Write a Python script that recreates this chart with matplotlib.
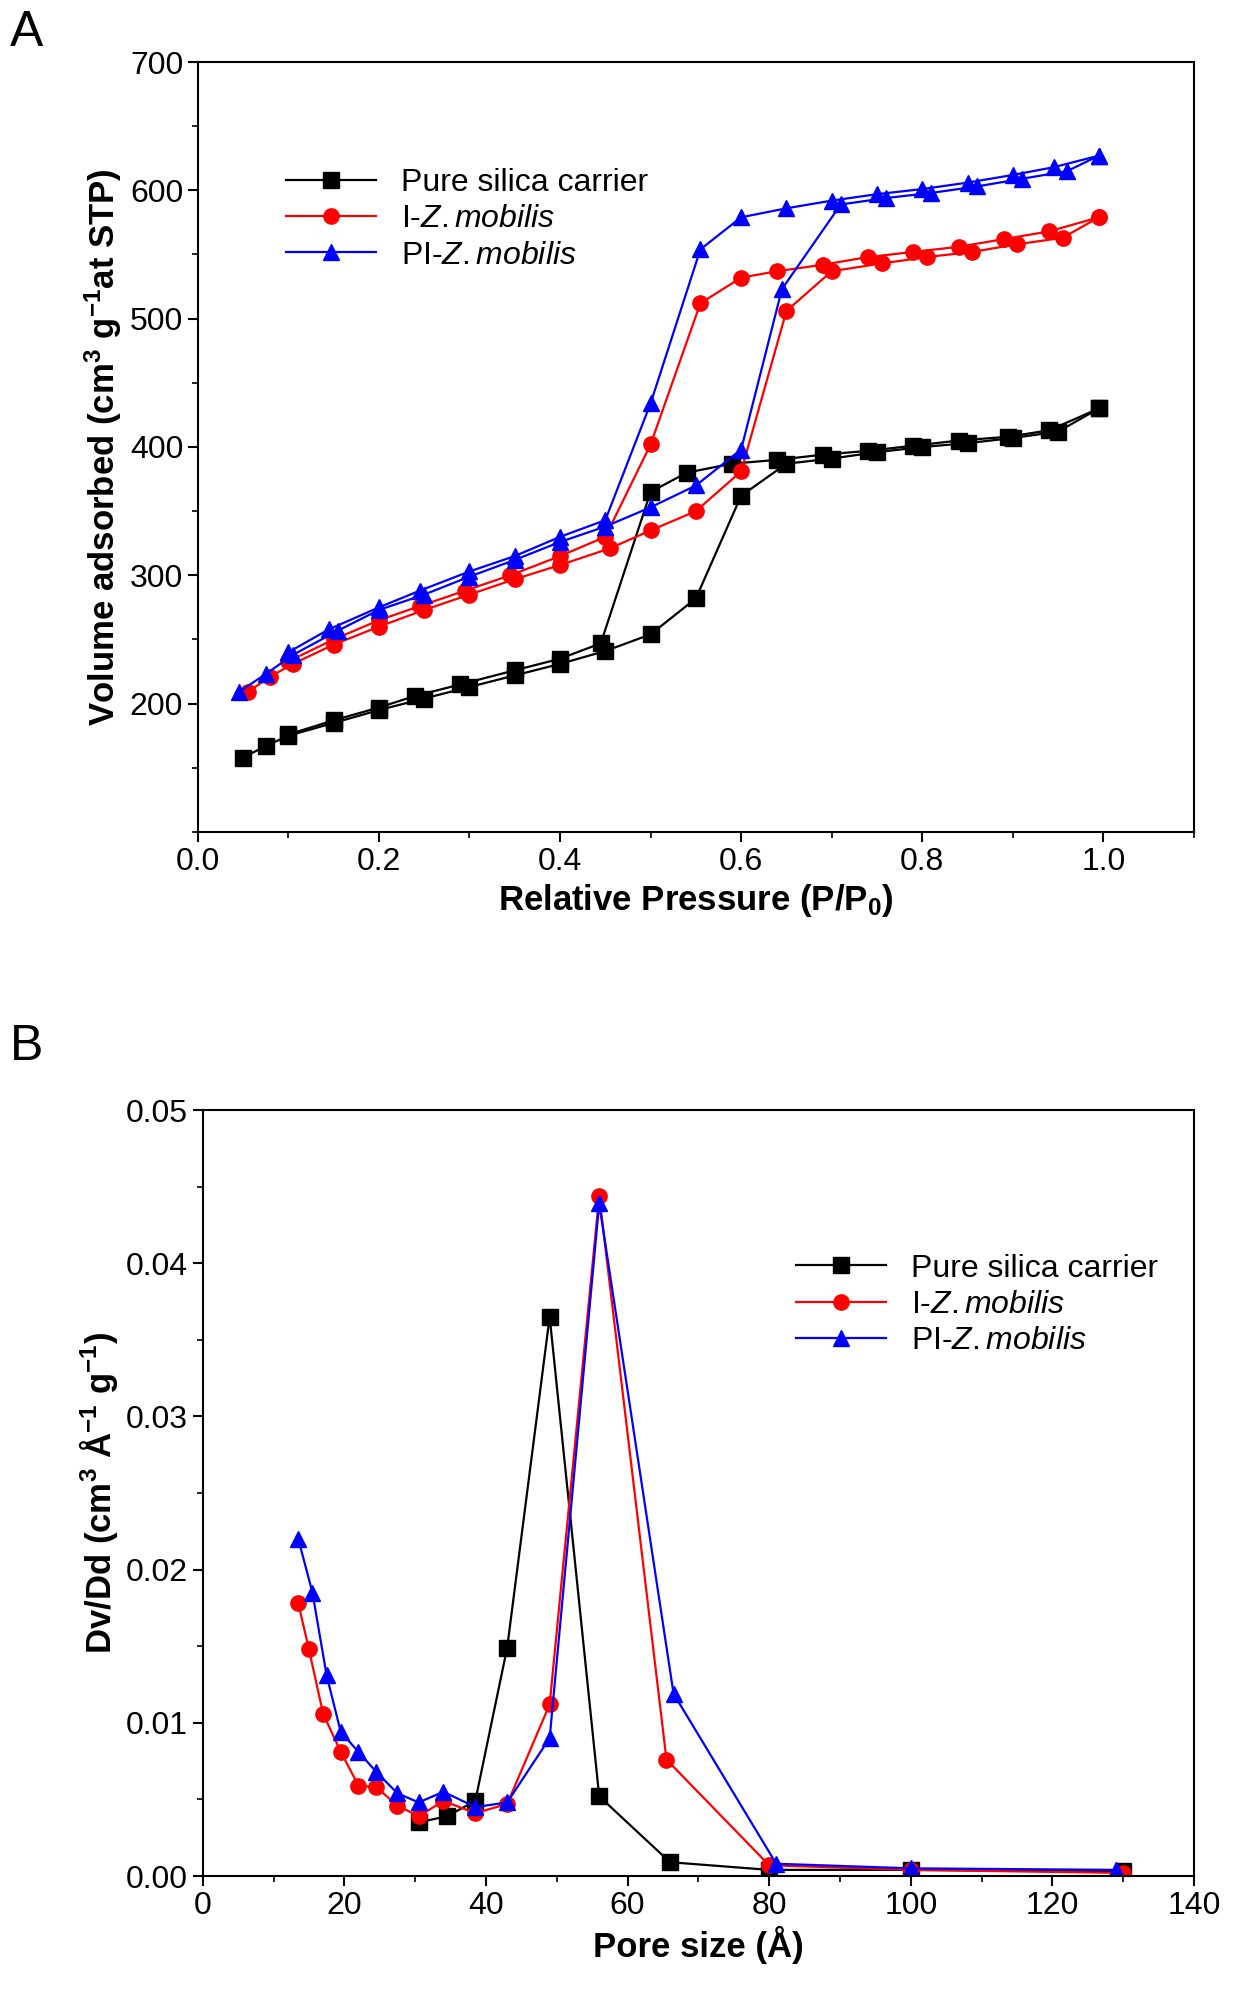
import matplotlib.pyplot as plt
from matplotlib.ticker import MultipleLocator

plt.rcParams['font.family'] = ['Liberation Sans', 'DejaVu Sans']
plt.rcParams['font.size'] = 22
plt.rcParams['mathtext.fontset'] = 'custom'
plt.rcParams['mathtext.rm'] = 'Liberation Sans'
plt.rcParams['mathtext.it'] = 'Liberation Sans:italic'
plt.rcParams['mathtext.bf'] = 'Liberation Sans:bold'

# Panel A: isotherms (adsorption branch, then desorption branch)
bk_ads_x = [0.05, 0.075, 0.1, 0.15, 0.2, 0.25, 0.3, 0.35, 0.4, 0.45, 0.5, 0.55, 0.6, 0.65, 0.7, 0.75, 0.8, 0.85, 0.9, 0.95, 0.995]
bk_ads_y = [158, 167, 175, 185, 195, 204, 213, 222, 231, 241, 254, 282, 362, 387, 391, 396, 400, 403, 407, 412, 430]
bk_des_x = [0.995, 0.94, 0.895, 0.84, 0.79, 0.74, 0.69, 0.64, 0.59, 0.54, 0.5, 0.445, 0.4, 0.35, 0.29, 0.24, 0.2, 0.15, 0.1]
bk_des_y = [430, 413, 408, 405, 401, 397, 394, 390, 387, 380, 365, 247, 235, 226, 215, 206, 197, 187, 176]
rd_ads_x = [0.055, 0.08, 0.105, 0.15, 0.2, 0.25, 0.3, 0.35, 0.4, 0.455, 0.5, 0.55, 0.6, 0.65, 0.7, 0.755, 0.805, 0.855, 0.905, 0.955, 0.995]
rd_ads_y = [209, 221, 231, 246, 260, 273, 285, 297, 308, 321, 335, 350, 381, 506, 537, 543, 548, 552, 558, 563, 579]
rd_des_x = [0.995, 0.94, 0.89, 0.84, 0.79, 0.74, 0.69, 0.64, 0.6, 0.555, 0.5, 0.45, 0.4, 0.345, 0.295, 0.245, 0.2, 0.15, 0.1]
rd_des_y = [579, 568, 562, 556, 552, 548, 542, 537, 532, 512, 402, 330, 315, 300, 288, 276, 265, 250, 233]
bl_ads_x = [0.045, 0.075, 0.105, 0.155, 0.2, 0.25, 0.3, 0.35, 0.4, 0.45, 0.5, 0.55, 0.6, 0.645, 0.71, 0.76, 0.81, 0.86, 0.91, 0.96, 0.995]
bl_ads_y = [209, 223, 238, 257, 273, 285, 299, 312, 326, 338, 353, 370, 398, 523, 589, 594, 598, 603, 609, 615, 627]
bl_des_x = [0.995, 0.945, 0.9, 0.85, 0.8, 0.75, 0.7, 0.65, 0.6, 0.555, 0.5, 0.45, 0.4, 0.35, 0.3, 0.245, 0.2, 0.145, 0.1]
bl_des_y = [627, 618, 612, 606, 601, 597, 592, 586, 579, 554, 434, 343, 330, 315, 303, 288, 275, 258, 240]

# Panel B: pore size distribution
bk_pore = [30.5, 34.5, 38.5, 43, 49, 56, 66, 80, 100, 130]
bk_dv = [0.0035, 0.0039, 0.0049, 0.0149, 0.0365, 0.0052, 0.0009, 0.0004, 0.0004, 0.0003]
rd_pore = [13.5, 15, 17, 19.5, 22, 24.5, 27.5, 30.5, 34, 38.5, 43, 49, 56, 65.5, 80, 100, 130]
rd_dv = [0.0178, 0.0148, 0.0106, 0.0081, 0.0059, 0.0058, 0.0046, 0.0039, 0.0049, 0.0041, 0.0047, 0.0112, 0.0444, 0.0076, 0.0007, 0.0004, 0.0002]
bl_pore = [13.5, 15.5, 17.5, 19.5, 22, 24.5, 27.5, 30.5, 34, 38.5, 43, 49, 56, 66.5, 81, 100, 129]
bl_dv = [0.022, 0.0185, 0.0131, 0.0094, 0.0081, 0.0068, 0.0054, 0.0048, 0.0055, 0.0045, 0.0048, 0.009, 0.0439, 0.0119, 0.0008, 0.0005, 0.0004]

labels = ['Pure silica carrier', 'I-$\\it{Z{.}mobilis}$', 'PI-$\\it{Z{.}mobilis}$']
colors = ['black', 'red', 'blue']
markers = ['s', 'o', '^']

fig = plt.figure(figsize=(12.36, 20.0), dpi=100)
axA = fig.add_axes([0.16, 0.584, 0.806, 0.385])
axB = fig.add_axes([0.164, 0.062, 0.802, 0.383])

def style(ax):
    for s in ax.spines.values():
        s.set_linewidth(1.5)
    ax.tick_params(which='major', length=7, width=1.5, direction='out', labelsize=23)
    ax.tick_params(which='minor', length=4, width=1.2, direction='out')

ads = [(bk_ads_x, bk_ads_y, bk_des_x, bk_des_y), (rd_ads_x, rd_ads_y, rd_des_x, rd_des_y),
       (bl_ads_x, bl_ads_y, bl_des_x, bl_des_y)]
for (ax_, ay, dx, dy), c, m, lab in zip(ads, colors, markers, labels):
    axA.plot(ax_, ay, color=c, marker=m, ms=11, lw=1.6, label=lab)
    axA.plot(dx, dy, color=c, marker=m, ms=11, lw=1.6)
axA.set_xlim(0.0, 1.1)
axA.set_ylim(100, 700)
axA.xaxis.set_major_locator(MultipleLocator(0.2))
axA.xaxis.set_minor_locator(MultipleLocator(0.1))
axA.set_yticks([200, 300, 400, 500, 600, 700])
axA.yaxis.set_minor_locator(MultipleLocator(50))
axA.set_xlabel('Relative Pressure (P/P$_\\mathbf{0}$)', fontweight='bold', fontsize=25)
axA.set_ylabel('Volume adsorbed (cm$^\\mathbf{3}$ g$^\\mathbf{-1}$at STP)', fontweight='bold', fontsize=25)
axA.legend(loc='upper left', bbox_to_anchor=(0.06, 0.9), frameon=False, fontsize=23, handlelength=2.8,
           labelspacing=0.2)
style(axA)

for px, py, c, m, lab in zip([bk_pore, rd_pore, bl_pore], [bk_dv, rd_dv, bl_dv], colors, markers, labels):
    axB.plot(px, py, color=c, marker=m, ms=11, lw=1.6, label=lab)
axB.set_xlim(0, 140)
axB.set_ylim(0, 0.05)
axB.xaxis.set_major_locator(MultipleLocator(20))
axB.xaxis.set_minor_locator(MultipleLocator(10))
axB.yaxis.set_major_locator(MultipleLocator(0.01))
axB.yaxis.set_minor_locator(MultipleLocator(0.005))
axB.yaxis.set_major_formatter(plt.FormatStrFormatter('%.2f'))
axB.set_xlabel('Pore size (Å)', fontweight='bold', fontsize=25)
axB.set_ylabel('Dv/Dd (cm$^\\mathbf{3}$ Å$^\\mathbf{-1}$ g$^\\mathbf{-1}$)', fontweight='bold', fontsize=25)
axB.legend(loc='upper left', bbox_to_anchor=(0.57, 0.85), frameon=False, fontsize=23, handlelength=2.8,
           labelspacing=0.2)
style(axB)

fig.text(0.008, 0.995, 'A', fontsize=36, va='top')
fig.text(0.008, 0.488, 'B', fontsize=36, va='top')

fig.savefig('out.png', dpi=100)
